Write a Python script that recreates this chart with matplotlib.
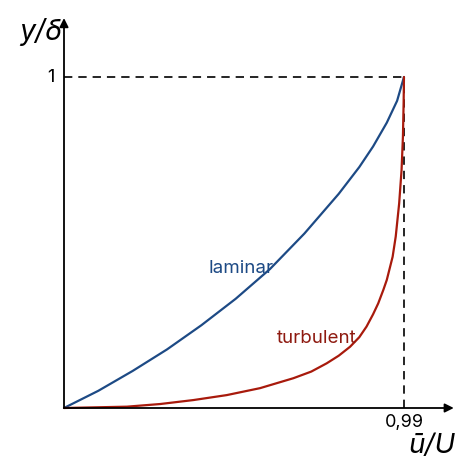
import matplotlib
matplotlib.use("Agg")
import matplotlib.pyplot as plt

plt.rcParams['font.family'] = ['Inter', 'DejaVu Sans']
plt.rcParams['lines.scale_dashes'] = False

# Data (u/U, y/delta)
laminar_u = [0.0, 0.1, 0.2, 0.3, 0.4, 0.5, 0.6, 0.7, 0.8, 0.86, 0.9, 0.94, 0.97, 0.99]
laminar_y = [0.0, 0.052, 0.112, 0.177, 0.250, 0.330, 0.420, 0.527, 0.647, 0.728,
             0.790, 0.862, 0.928, 1.0]

turbulent_u = [0.0, 0.183, 0.280, 0.377, 0.474, 0.571, 0.668, 0.72, 0.765, 0.80, 0.833,
               0.86, 0.881, 0.90, 0.915, 0.93, 0.940, 0.957, 0.966, 0.976, 0.983,
               0.987, 0.989, 0.99]
turbulent_y = [0.0, 0.004, 0.012, 0.024, 0.039, 0.060, 0.090, 0.110, 0.135, 0.158, 0.185,
               0.214, 0.246, 0.283, 0.316, 0.357, 0.387, 0.457, 0.518, 0.618, 0.719,
               0.820, 0.921, 1.0]

u_edge = 0.99
y_edge = 1.0
x_tick_label = "0,99"
y_tick_label = "1"

blue = "#1d4a85"
red = "#a81a0c"

fig = plt.figure(figsize=(4.74, 4.76), dpi=100)
ax = fig.add_axes([0, 0, 1, 1])
sx = 343.4
sy = 331.0
ax.set_xlim(-64 / sx, (474 - 64) / sx)
ax.set_ylim((408 - 476) / sy, 408 / sy)
ax.axis('off')

# axes arrows
ax.annotate("", xy=(1.135, 0), xytext=(0, 0),
            arrowprops=dict(arrowstyle='-|>', mutation_scale=13, lw=1.3, color='black',
                            shrinkA=0, shrinkB=0))
ax.annotate("", xy=(0, 1.178), xytext=(0, 0),
            arrowprops=dict(arrowstyle='-|>', mutation_scale=13, lw=1.3, color='black',
                            shrinkA=0, shrinkB=0))

# dashed guides
ax.plot([0, u_edge], [y_edge, y_edge], color='black', lw=1.2, dashes=(6, 4.3))
ax.plot([u_edge, u_edge], [0, y_edge], color='black', lw=1.2, dashes=(6, 4.3))

ax.plot(laminar_u, laminar_y, color=blue, lw=1.6, solid_capstyle='round',
        solid_joinstyle='round')
ax.plot(turbulent_u, turbulent_y, color=red, lw=1.6, solid_capstyle='round',
        solid_joinstyle='round')

ax.text(-0.028, y_edge, y_tick_label, ha='right', va='center', fontsize=13)
ax.text(u_edge, -0.018, x_tick_label, ha='center', va='top', fontsize=13)

ax.text(0.515, 0.422, "laminar", color=blue, fontsize=13.5, ha='center', va='center')
ax.text(0.737, 0.21, "turbulent", color="#8e1a10", fontsize=13.5, ha='center', va='center')

ax.text(-0.004, 1.135, "y/δ", fontsize=20.5, style='italic', ha='right', va='center')
ax.text(1.072, -0.115, "ū/U", fontsize=20, style='italic', ha='center', va='center')

fig.savefig("out.png", dpi=100)
